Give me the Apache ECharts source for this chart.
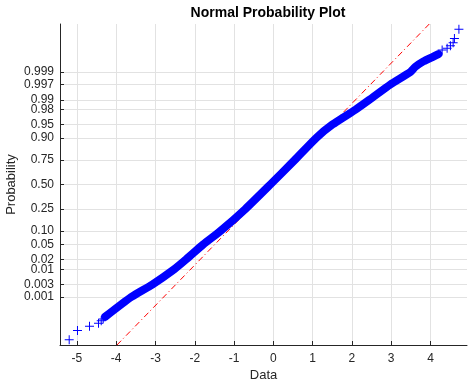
<!DOCTYPE html>
<html>
<head>
<meta charset="utf-8">
<script src="https://cdn.jsdelivr.net/npm/echarts@6/dist/echarts.min.js"></script>
<style>
html,body{margin:0;padding:0;background:#fff;}
#chart{width:474px;height:387px;}
</style>
</head>
<body>
<div id="chart"></div>
<script>
// ---- data ----
const xTicks = [-5, -4, -3, -2, -1, 0, 1, 2, 3, 4];
const probTicks = [0.001, 0.003, 0.01, 0.02, 0.05, 0.10, 0.25, 0.50, 0.75, 0.90, 0.95, 0.98, 0.99, 0.997, 0.999];
const probLabels = ['0.001', '0.003', '0.01', '0.02', '0.05', '0.10', '0.25', '0.50', '0.75', '0.90', '0.95', '0.98', '0.99', '0.997', '0.999'];
const xRange = [-5.43, 4.93];
const probRange = [0.0000052, 0.9999948];

// sparse individual markers in the lower tail
const lowTailX = [-5.196, -4.985, -4.679, -4.450, -4.381, -4.330];
const lowTailP = [0.00001, 0.00003, 0.00005, 0.00007, 0.00009, 0.00011];
// dense band of sample points
const bandX = [-4.280, -3.617, -3.082, -2.522, -2.216, -1.783, -1.350, -0.713, -0.076, 0.548, 1.095, 1.503, 2.089, 2.445, 2.980, 3.489, 3.616, 3.820, 4.075, 4.203];
const bandP = [0.00014, 0.001, 0.003, 0.01, 0.02, 0.05, 0.10, 0.25, 0.50, 0.75, 0.90, 0.95, 0.98, 0.99, 0.997, 0.999, 0.99939, 0.99964, 0.99978, 0.99983];
// sparse individual markers in the upper tail
const highTailX = [4.297, 4.424, 4.508, 4.577, 4.610, 4.724];
const highTailP = [0.99989, 0.99991, 0.99993, 0.99995, 0.99997, 0.99999];
// reference (fitted) line end points
const refX = [-3.98, 3.97];
const refP = [0.0000052, 0.9999948];

// ---- normal probability scale ----
function norminv(p) {
  const a = [-3.969683028665376e+01, 2.209460984245205e+02, -2.759285104469687e+02, 1.383577518672690e+02, -3.066479806614716e+01, 2.506628277459239e+00];
  const b = [-5.447609879822406e+01, 1.615858368580409e+02, -1.556989798598866e+02, 6.680131188771972e+01, -1.328068155288572e+01];
  const c = [-7.784894002430293e-03, -3.223964580411365e-01, -2.400758277161838e+00, -2.549732539343734e+00, 4.374664141464968e+00, 2.938163982698783e+00];
  const d = [7.784695709041462e-03, 3.224671290700398e-01, 2.445134137142996e+00, 3.754408661907416e+00];
  const plow = 0.02425, phigh = 1 - plow;
  let q, r;
  if (p < plow) {
    q = Math.sqrt(-2 * Math.log(p));
    return (((((c[0]*q+c[1])*q+c[2])*q+c[3])*q+c[4])*q+c[5]) / ((((d[0]*q+d[1])*q+d[2])*q+d[3])*q+1);
  } else if (p <= phigh) {
    q = p - 0.5; r = q*q;
    return (((((a[0]*r+a[1])*r+a[2])*r+a[3])*r+a[4])*r+a[5])*q / (((((b[0]*r+b[1])*r+b[2])*r+b[3])*r+b[4])*r+1);
  } else {
    q = Math.sqrt(-2 * Math.log(1 - p));
    return -(((((c[0]*q+c[1])*q+c[2])*q+c[3])*q+c[4])*q+c[5]) / ((((d[0]*q+d[1])*q+d[2])*q+d[3])*q+1);
  }
}

const zip = (xs, ps) => xs.map((x, i) => [x, norminv(ps[i])]);
const zTicks = probTicks.map(norminv);
const FONT = '"Liberation Sans", Arial, Helvetica, sans-serif';
const AXC = '#262626';
const GRIDC = '#e2e2e2';
const plusPath = 'path://M0,4.45H10V5.55H0Z M4.45,0H5.55V10H4.45Z';

const chart = echarts.init(document.getElementById('chart'), null, {renderer: 'canvas'});
chart.setOption({
  animation: false,
  backgroundColor: '#ffffff',
  title: {
    text: 'Normal Probability Plot',
    left: 263, top: 1, textAlign: 'center',
    textStyle: {fontFamily: FONT, fontSize: 14, fontWeight: 'bold', color: '#000000'}
  },
  grid: {left: 60, right: 7, top: 24, bottom: 42, containLabel: false, outerBoundsMode: 'none'},
  xAxis: {
    type: 'value', min: xRange[0], max: xRange[1],
    name: 'Data', nameLocation: 'middle', nameGap: 24, nameMoveOverlap: false,
    nameTextStyle: {fontFamily: FONT, fontSize: 13, color: AXC},
    axisLine: {show: true, onZero: false, lineStyle: {color: AXC, width: 1}},
    axisTick: {show: true, inside: true, length: 4, customValues: xTicks, lineStyle: {color: AXC}},
    axisLabel: {customValues: xTicks, margin: 8, fontFamily: FONT, fontSize: 12, color: AXC},
    splitLine: {show: true, lineStyle: {color: GRIDC, width: 1}}
  },
  yAxis: {
    type: 'value', min: norminv(probRange[0]), max: norminv(probRange[1]),
    name: 'Probability', nameLocation: 'middle', nameGap: 42, nameMoveOverlap: false,
    nameTextStyle: {fontFamily: FONT, fontSize: 13, color: AXC},
    axisLine: {show: true, onZero: false, lineStyle: {color: AXC, width: 1}},
    axisTick: {show: true, inside: true, length: 4, customValues: zTicks, lineStyle: {color: AXC}},
    axisLabel: {
      customValues: zTicks, margin: 6, fontFamily: FONT, fontSize: 12, color: AXC,
      formatter: function (v) {
        for (let i = 0; i < zTicks.length; i++) if (Math.abs(zTicks[i] - v) < 1e-6) return probLabels[i];
        return '';
      }
    },
    splitLine: {show: true, lineStyle: {color: GRIDC, width: 1}}
  },
  series: [
    {
      type: 'line', data: zip(refX, refP), showSymbol: false, silent: true, z: 2,
      lineStyle: {color: '#ff0000', width: 1, type: [6, 3, 1, 3]}
    },
    {
      type: 'line', data: zip(bandX, bandP), showSymbol: false, silent: true, z: 3, smooth: 0.2,
      lineStyle: {color: '#0000ff', width: 8, cap: 'round', join: 'round'}
    },
    {
      type: 'scatter', data: zip(lowTailX, lowTailP).concat(zip(highTailX, highTailP)), z: 4,
      symbol: plusPath, symbolSize: 9, itemStyle: {color: '#0000ff', opacity: 1}
    }
  ]
});
</script>
</body>
</html>
